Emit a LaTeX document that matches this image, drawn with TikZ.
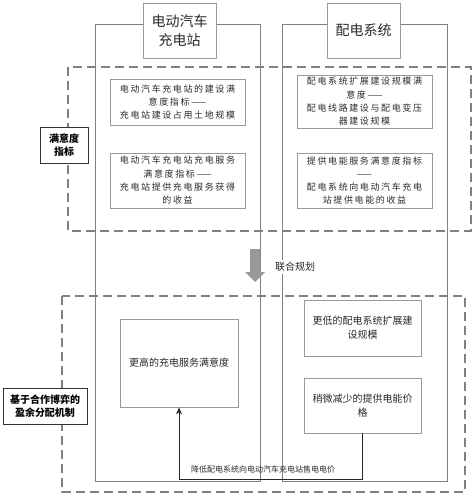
\documentclass[tikz,border=0pt]{standalone}
\usepackage{fontspec}
\setmainfont{Noto Sans CJK SC}
\usetikzlibrary{positioning,arrows.meta}
\definecolor{linegray}{HTML}{808080}
\definecolor{boxgray}{HTML}{999999}
\definecolor{textgray}{HTML}{2A2A2A}

\begin{document}
\begin{tikzpicture}[x=1pt,y=-1pt]
        \tikzstyle{every node}=[font=\fontsize{10}{13}\selectfont, text=textgray, align=center]
        \tikzstyle{column}=[draw=linegray, line width=1pt]
        \tikzstyle{zone}=[draw=linegray, line width=1.1pt, dash pattern=on 9pt off 5pt]
        \tikzstyle{titlebox}=[draw=boxgray, fill=white, line width=0.9pt, minimum width=73pt, minimum height=55pt, inner sep=0pt, font=\fontsize{14}{19}\selectfont]
        \tikzstyle{lblbox}=[draw=black!80, fill=white, line width=0.9pt, inner sep=0pt, font=\fontsize{10}{13.5}\selectfont\bfseries, text=black]
        \tikzstyle{indexbox}=[draw=boxgray, fill=white, line width=0.9pt, minimum width=135pt, inner sep=0pt, font=\fontsize{9}{13.3}\selectfont\addfontfeature{LetterSpace=18}]
        \tikzstyle{resultbox}=[draw=boxgray, fill=white, line width=0.9pt, minimum width=117pt, inner sep=0pt, font=\fontsize{10}{14}\selectfont]
        \useasboundingbox (0,0) rectangle (474,495);

        % columns
        \draw[column] (95,25) rectangle (260,481);
        \draw[column] (282,25) rectangle (447,481);
        \node[titlebox] (station) at (179.5,30.5) {电动汽车\\充电站};
        \node[titlebox] (grid) at (363.5,30.5) {配电系统};

        % dashed zones
        \draw[zone] (68,67) rectangle (471,231);
        \draw[zone] (62,296) rectangle (465,492);
        \node[lblbox, minimum width=48pt, minimum height=36pt] (satisfy) at (64,145) {满意度\\指标};
        \node[lblbox, minimum width=84pt, minimum height=36pt] (coop) at (45,406) {基于合作博弈的\\盈余分配机制};

        % satisfaction indices
        \node[indexbox, minimum height=46pt] (stationBuild) at (177.5,102) {电动汽车充电站的建设满\\意度指标——\\充电站建设占用土地规模};
        \node[indexbox, minimum height=55pt] (stationServe) at (177.5,180.5) {电动汽车充电站充电服务\\满意度指标——\\充电站提供充电服务获得\\的收益};
        \node[indexbox, minimum height=53pt] (gridBuild) at (364.5,101.5) {配电系统扩展建设规模满\\意度——\\配电线路建设与配电变压\\器建设规模};
        \node[indexbox, minimum height=55pt] (gridServe) at (364.5,180.5) {提供电能服务满意度指标\\——\\配电系统向电动汽车充电\\站提供电能的收益};

        % joint planning
        \fill[boxgray] (250,249) -- (260,249) -- (260,272) -- (265,272) -- (255,282) -- (245,272) -- (250,272) -- cycle;
        \node[fill=white, inner sep=2pt] (joint) at (295,267) {联合规划};

        % results
        \node[resultbox, minimum width=118pt, minimum height=88pt] (higher) at (179,363) {更高的充电服务满意度};
        \node[resultbox, minimum height=56pt] (lower) at (362.5,328) {更低的配电系统扩展建\\设规模};
        \node[resultbox, minimum height=55pt] (price) at (362.5,405.5) {稍微减少的提供电能价\\格};

        \draw[black!85, line width=0.9pt, -{Stealth[length=7pt, width=6pt]}] (price.south) -- ++(0,45.5) -| (higher.south);
        \node[font=\fontsize{8}{10}\selectfont] (discount) at (263,469) {降低配电系统向电动汽车充电站售电电价};
\end{tikzpicture}
\end{document}
